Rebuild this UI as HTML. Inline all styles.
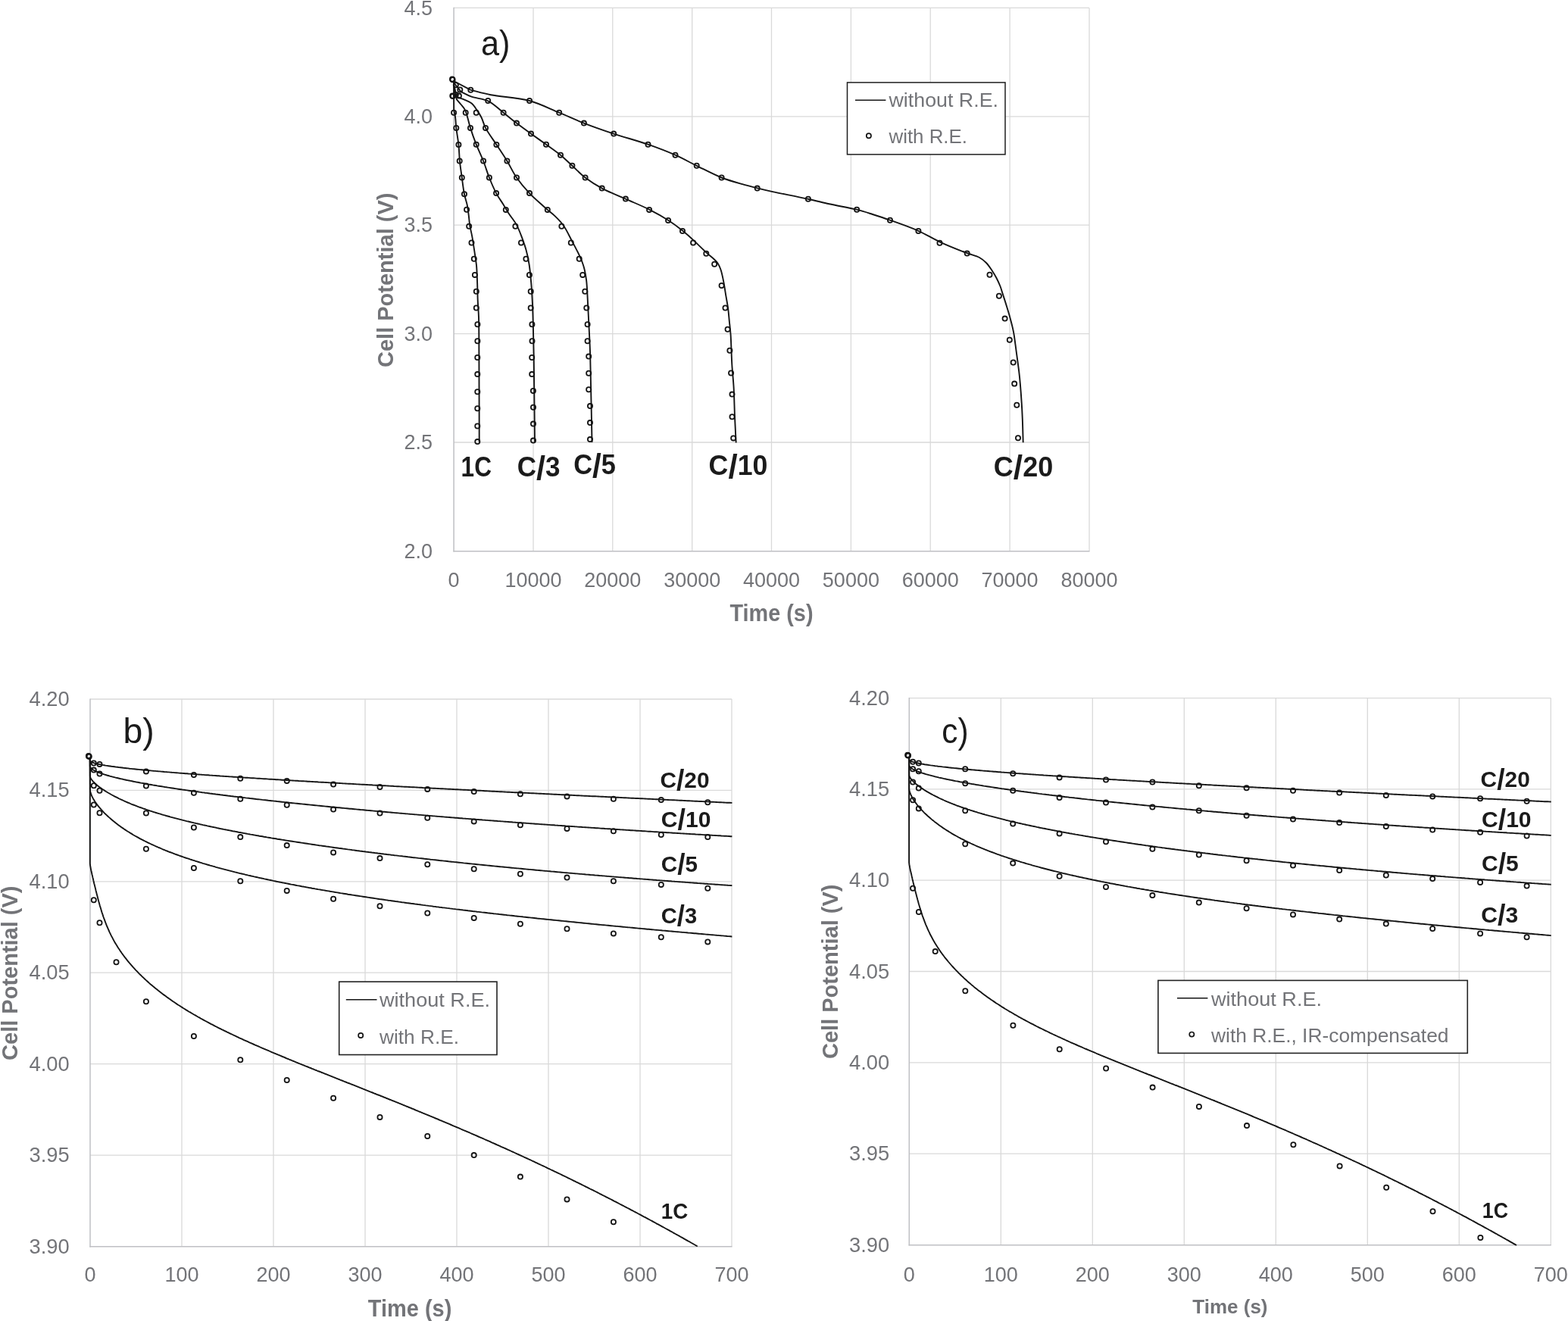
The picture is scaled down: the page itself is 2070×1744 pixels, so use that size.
<!DOCTYPE html>
<html><head><meta charset="utf-8"><title>Cell potential vs time</title>
<style>
html,body{margin:0;padding:0;background:#fff;}
svg{display:block;}
text{font-family:"Liberation Sans",Arial,sans-serif;}
</style></head>
<body>
<svg width="2070" height="1744" viewBox="0 0 2070 1744">
<rect width="2070" height="1744" fill="#fff"/>
<g>
<line x1="704" y1="10.4" x2="704" y2="727.4" stroke="#d9d9d9" stroke-width="1.3"/>
<line x1="808.8" y1="10.4" x2="808.8" y2="727.4" stroke="#d9d9d9" stroke-width="1.3"/>
<line x1="913.7" y1="10.4" x2="913.7" y2="727.4" stroke="#d9d9d9" stroke-width="1.3"/>
<line x1="1018.5" y1="10.4" x2="1018.5" y2="727.4" stroke="#d9d9d9" stroke-width="1.3"/>
<line x1="1123.4" y1="10.4" x2="1123.4" y2="727.4" stroke="#d9d9d9" stroke-width="1.3"/>
<line x1="1228.2" y1="10.4" x2="1228.2" y2="727.4" stroke="#d9d9d9" stroke-width="1.3"/>
<line x1="1333.1" y1="10.4" x2="1333.1" y2="727.4" stroke="#d9d9d9" stroke-width="1.3"/>
<line x1="1438" y1="10.4" x2="1438" y2="727.4" stroke="#d9d9d9" stroke-width="1.3"/>
<line x1="599.1" y1="10.4" x2="1438" y2="10.4" stroke="#d9d9d9" stroke-width="1.3"/>
<line x1="599.1" y1="153.8" x2="1438" y2="153.8" stroke="#d9d9d9" stroke-width="1.3"/>
<line x1="599.1" y1="297.2" x2="1438" y2="297.2" stroke="#d9d9d9" stroke-width="1.3"/>
<line x1="599.1" y1="440.6" x2="1438" y2="440.6" stroke="#d9d9d9" stroke-width="1.3"/>
<line x1="599.1" y1="584" x2="1438" y2="584" stroke="#d9d9d9" stroke-width="1.3"/>
<line x1="599.1" y1="9.8" x2="599.1" y2="728.4" stroke="#bfc0c4" stroke-width="1.5"/>
<line x1="598.4" y1="727.7" x2="1438.5" y2="727.7" stroke="#bfc0c4" stroke-width="1.5"/>
</g>
<text x="571" y="19.6" font-size="27" text-anchor="end" fill="#737478">4.5</text>
<text x="571" y="163" font-size="27" text-anchor="end" fill="#737478">4.0</text>
<text x="571" y="306.4" font-size="27" text-anchor="end" fill="#737478">3.5</text>
<text x="571" y="449.8" font-size="27" text-anchor="end" fill="#737478">3.0</text>
<text x="571" y="593.2" font-size="27" text-anchor="end" fill="#737478">2.5</text>
<text x="571" y="736.6" font-size="27" text-anchor="end" fill="#737478">2.0</text>
<text x="599.1" y="774.9" font-size="27" text-anchor="middle" fill="#737478">0</text>
<text x="704" y="774.9" font-size="27" text-anchor="middle" fill="#737478">10000</text>
<text x="808.8" y="774.9" font-size="27" text-anchor="middle" fill="#737478">20000</text>
<text x="913.7" y="774.9" font-size="27" text-anchor="middle" fill="#737478">30000</text>
<text x="1018.5" y="774.9" font-size="27" text-anchor="middle" fill="#737478">40000</text>
<text x="1123.4" y="774.9" font-size="27" text-anchor="middle" fill="#737478">50000</text>
<text x="1228.2" y="774.9" font-size="27" text-anchor="middle" fill="#737478">60000</text>
<text x="1333.1" y="774.9" font-size="27" text-anchor="middle" fill="#737478">70000</text>
<text x="1438" y="774.9" font-size="27" text-anchor="middle" fill="#737478">80000</text>
<text x="1018.5" y="819.8" font-size="30.5" text-anchor="middle" font-weight="bold" textLength="110" lengthAdjust="spacingAndGlyphs" fill="#737478">Time (s)</text>
<text x="0" y="0" font-size="29" text-anchor="middle" font-weight="bold" fill="#737478" transform="translate(518.6,369.8) rotate(-90)">Cell Potential (V)</text>
<text x="635" y="73.3" font-size="46.5" textLength="38.5" lengthAdjust="spacingAndGlyphs" fill="#1b1b1b">a)</text>
<g id="lines-a">
<path fill="none" stroke="#141414" stroke-width="1.9" stroke-linejoin="round" d="M599,107 L621,118.7 C630,120.9 637.5,123.2 648,125.3 C662.3,128.1 683.3,128.7 699,133 C713.2,136.9 725.8,143.6 738.2,148.7 C749.6,153.4 759.4,158.1 770.9,162.6 C783.3,167.5 796.6,172.1 810.2,176.6 C824.7,181.4 841.3,185.8 855.5,190.7 C868.3,195.2 880.3,199.8 891.5,204.7 C901.6,209.2 909.9,214 919.7,218.8 C930.2,223.9 942,230.3 952.6,234.5 C962,238.2 971.6,240.8 980,243.2 C987.1,245.3 993.3,246.8 999.7,248.4 C1005.8,249.9 1010.3,251 1017.8,252.6 C1030.2,255.3 1052.9,259.6 1066.9,262.7 C1077.5,265 1084.8,267.1 1094.7,269.3 C1106,271.8 1120.7,274.1 1131.1,276.7 C1139.1,278.7 1144.9,280.7 1152,283 C1159.5,285.4 1166.3,287.6 1174.8,290.6 C1185.8,294.5 1200.9,299.7 1212.4,304.8 C1222.6,309.3 1230.4,314.6 1240.5,319.3 C1251.7,324.5 1267,330.5 1276.7,334.2 C1283.2,336.7 1288.5,337.5 1293,340 C1296.6,342 1299.3,344.3 1302,347 C1304.8,349.9 1307.2,353.6 1309.5,357 C1311.7,360.3 1313.8,363.8 1315.6,367.3 C1317.4,370.8 1319.1,374.5 1320.5,378 C1321.8,381.3 1322.4,384 1323.7,387.9 C1325.6,393.7 1328.6,403.1 1330.6,409.7 C1332.3,415.2 1333.6,419.8 1334.9,424.9 C1336.2,429.9 1337.4,434.7 1338.3,439.8 C1339.3,445 1339.8,450.4 1340.6,455.9 C1341.4,461.5 1342.1,467.4 1342.9,473.1 C1343.7,478.8 1344.5,484.6 1345.2,490.3 C1345.9,496 1346.4,501.4 1346.9,507.5 C1347.5,514.6 1348.1,522.8 1348.6,530.4 C1349.1,538 1349.5,545.1 1349.8,553.3 C1350.2,562.9 1350.4,574 1350.7,584.3"/>
<path fill="none" stroke="#141414" stroke-width="1.9" stroke-linejoin="round" d="M599,109 L608.6,121.1 C613.2,123.3 617.2,125.8 622.4,127.7 C628.8,130 637.5,130.1 644.4,133.4 C651.7,136.9 658.1,143.7 664.6,148.7 C670.6,153.4 676,158 682,162.6 C688.1,167.3 694.6,172 701,176.6 C707.6,181.3 714.4,186 721,190.7 C727.4,195.3 734.1,199.9 740,204.7 C745.5,209.2 750.1,214 755.4,218.8 C761,223.9 766.3,229.7 772.6,234.5 C779.3,239.6 786.5,244.2 794.7,248.6 C804,253.6 815.5,257.9 825.9,262.6 C836.3,267.3 847.4,271.7 857.1,276.6 C866,281.1 874.5,285.9 882.1,290.8 C889,295.2 895.1,299.8 901,304.6 C906.7,309.1 911.8,313.8 917,318.6 C922.2,323.4 927.7,329.1 932.4,333.4 C936.2,336.9 940.3,339.8 943,342.5 C944.9,344.3 946.2,345.5 947.5,347.5 C949.1,349.9 950.3,352.6 951.5,356 C953.1,360.7 954.4,367.4 955.5,373.2 C956.6,378.9 957.4,384.7 958.3,390.4 C959.3,396.1 960.4,401.9 961.2,407.6 C962,413.3 962.3,419.1 962.9,424.8 C963.5,430.5 964.1,435.1 964.6,442 C965.3,452.4 965.6,469.1 966.3,481.3 C966.9,491.9 968,500.5 968.6,511.1 C969.3,523.2 969.5,537.5 970,550.1 C970.5,561.9 971.1,573 971.7,584.5"/>
<path fill="none" stroke="#141414" stroke-width="1.9" stroke-linejoin="round" d="M599,111 L602.8,127.7 C605.9,128.8 608.9,129.7 612,131.1 C615.4,132.6 619.5,134 622.4,136.3 C625.2,138.6 627.2,141.8 629.3,144.9 C631.5,148.1 633.6,151.3 635.5,155 C637.6,159.2 638.4,163.9 641,168.9 C644.4,175.6 650.6,183.6 655.4,190.9 C660.1,198.1 665,205.2 669.4,212.5 C673.8,219.7 677.1,227.5 682,234.5 C687,241.7 693.2,249 699,255.1 C704.2,260.7 710.6,266 715,270 C718,272.8 720,274.5 722.7,276.9 C725.7,279.5 729,281.8 732.2,284.9 C736,288.5 740.1,292.5 743.7,297.5 C747.9,303.3 751.5,311.5 755.1,318.2 C758.4,324.5 762.1,331.4 764.5,336.5 C766.2,340.1 767.4,342.8 768.6,346 C769.8,349.2 770.7,352.1 771.6,355.7 C772.6,359.9 773.4,364.4 774.1,369.8 C775,377.2 775.3,386.7 775.8,396.1 C776.4,406.8 777,418.7 777.5,430.6 C778.1,443.3 778.7,453.5 779.2,470 C780.1,498.1 780.7,546 781.5,584"/>
<path fill="none" stroke="#141414" stroke-width="1.9" stroke-linejoin="round" d="M599,112 L602.8,131.1 C604.7,133.4 606.7,135.7 608.6,138 C610.4,140.3 612.4,142.3 613.8,144.9 C615.3,147.8 616.1,151.3 617.2,155 C618.5,159.2 619.4,163.8 621,168.9 C623,175.4 625.9,183.5 628.7,190.7 C631.6,198 635.2,205.2 638.1,212.5 C641,219.8 643,227.3 645.9,234.5 C648.7,241.5 651.8,248.9 655.1,255.1 C658,260.6 661.6,265.3 664.5,270 C667,274.1 668.8,277.5 671.4,281.5 C674.4,286.2 678.8,291.2 681.7,296.4 C684.5,301.5 686.5,306.9 688.6,312.4 C690.7,318 692.8,323.7 694.4,329.6 C696.1,335.6 697.3,341.4 698.4,348 C699.7,355.7 700.4,364.5 701.2,373.2 C702,382.4 702.5,391.5 703,401.9 C703.6,414.1 703.8,429.8 704.1,442 C704.3,452.2 704.5,457.5 704.7,470 C705.1,495.1 705.6,545.7 706,583.5"/>
<path fill="none" stroke="#141414" stroke-width="1.9" stroke-linejoin="round" d="M599,106 L599.2,144.9 C599.8,148.3 600.6,151.4 601.1,155 C601.7,159.3 601.7,163.7 602.3,168.9 C603,175.4 604.6,183.6 605.4,190.9 C606.2,198.1 606.2,205.3 606.9,212.5 C607.6,219.8 608.8,227.2 609.8,234.5 C610.8,241.8 611.7,249.9 613,256.3 C614,261.4 615.6,265.4 616.6,270 C617.5,274.6 618.1,279.2 618.7,283.8 C619.3,288.4 619.5,292.9 620.2,297.5 C621,302.4 622.3,306.9 623.3,312.4 C624.5,319 625.7,327.5 626.7,334.2 C627.6,340 628.4,344.4 629,350.3 C629.7,357.2 629.8,365.6 630.1,373.2 C630.4,380.8 630.4,388.5 630.7,396.1 C631,403.8 631.7,409.9 632,419.1 C632.4,432.7 632.3,449.7 632.4,470 C632.6,500.3 632.6,545.7 632.7,583.5"/>
</g>
<g fill="none" stroke="#141414" stroke-width="1.8">
<circle cx="597" cy="104.6" r="3.1"/>
<circle cx="597.6" cy="105.3" r="3.1"/>
<circle cx="597.3" cy="126.6" r="3.1"/>
<circle cx="597.8" cy="127.1" r="3.1"/>
<circle cx="601.8" cy="112.2" r="3.1"/>
<circle cx="607.3" cy="118.4" r="3.1"/>
<circle cx="601.8" cy="124.9" r="3.1"/>
<circle cx="605.9" cy="126.6" r="3.1"/>
<circle cx="621.3" cy="118.7" r="3.1"/>
<circle cx="699" cy="133" r="3.1"/>
<circle cx="738.2" cy="148.7" r="3.1"/>
<circle cx="770.9" cy="162.6" r="3.1"/>
<circle cx="810.2" cy="176.6" r="3.1"/>
<circle cx="855.5" cy="190.7" r="3.1"/>
<circle cx="891.5" cy="204.7" r="3.1"/>
<circle cx="919.7" cy="218.8" r="3.1"/>
<circle cx="952.6" cy="234.5" r="3.1"/>
<circle cx="999.7" cy="248.6" r="3.1"/>
<circle cx="1066.9" cy="262.7" r="3.1"/>
<circle cx="1131.1" cy="276.7" r="3.1"/>
<circle cx="1175" cy="290.8" r="3.1"/>
<circle cx="1212.4" cy="305" r="3.1"/>
<circle cx="1240.5" cy="320.8" r="3.1"/>
<circle cx="1276.7" cy="334.6" r="3.1"/>
<circle cx="1306.5" cy="362.7" r="3.1"/>
<circle cx="1318.9" cy="390.8" r="3.1"/>
<circle cx="1326.6" cy="420.6" r="3.1"/>
<circle cx="1332.8" cy="448.8" r="3.1"/>
<circle cx="1337.7" cy="478.5" r="3.1"/>
<circle cx="1339.2" cy="506.6" r="3.1"/>
<circle cx="1342.3" cy="534.7" r="3.1"/>
<circle cx="1344" cy="578.3" r="3.1"/>
<circle cx="644.2" cy="133" r="3.1"/>
<circle cx="664.6" cy="148.7" r="3.1"/>
<circle cx="682" cy="162.6" r="3.1"/>
<circle cx="701" cy="176.6" r="3.1"/>
<circle cx="721" cy="190.7" r="3.1"/>
<circle cx="740" cy="204.7" r="3.1"/>
<circle cx="755.4" cy="218.8" r="3.1"/>
<circle cx="772.6" cy="234.5" r="3.1"/>
<circle cx="794.7" cy="248.6" r="3.1"/>
<circle cx="825.9" cy="262.6" r="3.1"/>
<circle cx="857.1" cy="276.9" r="3.1"/>
<circle cx="882.1" cy="291" r="3.1"/>
<circle cx="901" cy="305" r="3.1"/>
<circle cx="915.1" cy="320.5" r="3.1"/>
<circle cx="932.3" cy="334.8" r="3.1"/>
<circle cx="943.2" cy="348.8" r="3.1"/>
<circle cx="952.6" cy="377" r="3.1"/>
<circle cx="957.5" cy="406.5" r="3.1"/>
<circle cx="960.6" cy="434.8" r="3.1"/>
<circle cx="963.4" cy="462.8" r="3.1"/>
<circle cx="965.1" cy="492.5" r="3.1"/>
<circle cx="966.5" cy="520.6" r="3.1"/>
<circle cx="966.5" cy="550.3" r="3.1"/>
<circle cx="968.2" cy="578.4" r="3.1"/>
<circle cx="628.7" cy="148.7" r="3.1"/>
<circle cx="641" cy="168.9" r="3.1"/>
<circle cx="655.4" cy="190.9" r="3.1"/>
<circle cx="669.4" cy="212.5" r="3.1"/>
<circle cx="682" cy="234.5" r="3.1"/>
<circle cx="699" cy="255.1" r="3.1"/>
<circle cx="722.8" cy="276.9" r="3.1"/>
<circle cx="741.4" cy="298.7" r="3.1"/>
<circle cx="753.8" cy="320.5" r="3.1"/>
<circle cx="764.7" cy="341.7" r="3.1"/>
<circle cx="769.2" cy="362.9" r="3.1"/>
<circle cx="772.3" cy="384.7" r="3.1"/>
<circle cx="774.3" cy="406.5" r="3.1"/>
<circle cx="775.6" cy="428.3" r="3.1"/>
<circle cx="775.6" cy="450.3" r="3.1"/>
<circle cx="777.2" cy="470.6" r="3.1"/>
<circle cx="777.2" cy="492.7" r="3.1"/>
<circle cx="777.2" cy="514.3" r="3.1"/>
<circle cx="779" cy="536.1" r="3.1"/>
<circle cx="779" cy="558.1" r="3.1"/>
<circle cx="779" cy="580.1" r="3.1"/>
<circle cx="614.7" cy="148.7" r="3.1"/>
<circle cx="621" cy="168.9" r="3.1"/>
<circle cx="628.7" cy="190.7" r="3.1"/>
<circle cx="638.1" cy="212.5" r="3.1"/>
<circle cx="645.9" cy="234.5" r="3.1"/>
<circle cx="655.1" cy="255.1" r="3.1"/>
<circle cx="667.8" cy="276.9" r="3.1"/>
<circle cx="680.4" cy="298.7" r="3.1"/>
<circle cx="688" cy="320.5" r="3.1"/>
<circle cx="694.4" cy="341.7" r="3.1"/>
<circle cx="698.9" cy="362.9" r="3.1"/>
<circle cx="700.7" cy="384.7" r="3.1"/>
<circle cx="700.7" cy="406.5" r="3.1"/>
<circle cx="702.4" cy="428.3" r="3.1"/>
<circle cx="702.5" cy="450.3" r="3.1"/>
<circle cx="702.2" cy="472" r="3.1"/>
<circle cx="702.2" cy="494.1" r="3.1"/>
<circle cx="703.9" cy="515.9" r="3.1"/>
<circle cx="704" cy="537.8" r="3.1"/>
<circle cx="704" cy="559.6" r="3.1"/>
<circle cx="704" cy="581.6" r="3.1"/>
<circle cx="599.1" cy="148.7" r="3.1"/>
<circle cx="602.3" cy="168.9" r="3.1"/>
<circle cx="605.4" cy="190.9" r="3.1"/>
<circle cx="606.7" cy="212.5" r="3.1"/>
<circle cx="609.8" cy="234.5" r="3.1"/>
<circle cx="613" cy="256.3" r="3.1"/>
<circle cx="616.1" cy="276.7" r="3.1"/>
<circle cx="619.2" cy="298.7" r="3.1"/>
<circle cx="622.5" cy="320.5" r="3.1"/>
<circle cx="625.8" cy="341.7" r="3.1"/>
<circle cx="626.9" cy="362.9" r="3.1"/>
<circle cx="628.8" cy="384.7" r="3.1"/>
<circle cx="628.8" cy="406.5" r="3.1"/>
<circle cx="630.4" cy="428.3" r="3.1"/>
<circle cx="630.4" cy="450.3" r="3.1"/>
<circle cx="630.3" cy="472" r="3.1"/>
<circle cx="630.3" cy="494.1" r="3.1"/>
<circle cx="630.3" cy="517.2" r="3.1"/>
<circle cx="630.3" cy="539.3" r="3.1"/>
<circle cx="630.3" cy="562.5" r="3.1"/>
<circle cx="630.3" cy="583.1" r="3.1"/>
</g>
<text x="608.6" y="628.6" font-size="36.5" font-weight="bold" fill="#1b1b1b" textLength="40.4" lengthAdjust="spacingAndGlyphs">1C</text>
<text x="682.8" y="629.1" font-size="36.5" font-weight="bold" fill="#1b1b1b" textLength="56.8" lengthAdjust="spacingAndGlyphs">C<tspan font-size="45" dy="3.8">/</tspan><tspan dy="-3.8">3</tspan></text>
<text x="757.2" y="625.7" font-size="36.5" font-weight="bold" fill="#1b1b1b" textLength="55.8" lengthAdjust="spacingAndGlyphs">C<tspan font-size="45" dy="3.8">/</tspan><tspan dy="-3.8">5</tspan></text>
<text x="935.6" y="626.9" font-size="36.5" font-weight="bold" fill="#1b1b1b" textLength="77.8" lengthAdjust="spacingAndGlyphs">C<tspan font-size="45" dy="3.8">/</tspan><tspan dy="-3.8">10</tspan></text>
<text x="1311.8" y="628.6" font-size="36.5" font-weight="bold" fill="#1b1b1b" textLength="78.4" lengthAdjust="spacingAndGlyphs">C<tspan font-size="45" dy="3.8">/</tspan><tspan dy="-3.8">20</tspan></text>
<rect x="1118.5" y="108.9" width="208.5" height="95" fill="#fff" stroke="#1e1e1e" stroke-width="1.5"/>
<line x1="1129" y1="132.2" x2="1169.4" y2="132.2" stroke="#141414" stroke-width="1.5"/>
<text x="1173.5" y="140.9" font-size="26" textLength="144.5" lengthAdjust="spacingAndGlyphs" fill="#737478">without R.E.</text>
<circle cx="1146.9" cy="179.2" r="3.1" fill="none" stroke="#141414" stroke-width="1.7"/>
<text x="1173.5" y="188.6" font-size="26" textLength="103.5" lengthAdjust="spacingAndGlyphs" fill="#737478">with R.E.</text>
<g>
<line x1="240" y1="923" x2="240" y2="1645.5" stroke="#d9d9d9" stroke-width="1.3"/>
<line x1="361" y1="923" x2="361" y2="1645.5" stroke="#d9d9d9" stroke-width="1.3"/>
<line x1="482" y1="923" x2="482" y2="1645.5" stroke="#d9d9d9" stroke-width="1.3"/>
<line x1="603" y1="923" x2="603" y2="1645.5" stroke="#d9d9d9" stroke-width="1.3"/>
<line x1="724" y1="923" x2="724" y2="1645.5" stroke="#d9d9d9" stroke-width="1.3"/>
<line x1="845" y1="923" x2="845" y2="1645.5" stroke="#d9d9d9" stroke-width="1.3"/>
<line x1="966" y1="923" x2="966" y2="1645.5" stroke="#d9d9d9" stroke-width="1.3"/>
<line x1="119" y1="923" x2="966" y2="923" stroke="#d9d9d9" stroke-width="1.3"/>
<line x1="119" y1="1043.4" x2="966" y2="1043.4" stroke="#d9d9d9" stroke-width="1.3"/>
<line x1="119" y1="1163.8" x2="966" y2="1163.8" stroke="#d9d9d9" stroke-width="1.3"/>
<line x1="119" y1="1284.2" x2="966" y2="1284.2" stroke="#d9d9d9" stroke-width="1.3"/>
<line x1="119" y1="1404.7" x2="966" y2="1404.7" stroke="#d9d9d9" stroke-width="1.3"/>
<line x1="119" y1="1525.1" x2="966" y2="1525.1" stroke="#d9d9d9" stroke-width="1.3"/>
<line x1="119" y1="922.4" x2="119" y2="1646.5" stroke="#bfc0c4" stroke-width="1.5"/>
<line x1="118.3" y1="1645.8" x2="966.6" y2="1645.8" stroke="#bfc0c4" stroke-width="1.5"/>
</g>
<text x="91.6" y="932" font-size="27.3" text-anchor="end" fill="#737478">4.20</text>
<text x="91.6" y="1052.4" font-size="27.3" text-anchor="end" fill="#737478">4.15</text>
<text x="91.6" y="1172.8" font-size="27.3" text-anchor="end" fill="#737478">4.10</text>
<text x="91.6" y="1293.2" font-size="27.3" text-anchor="end" fill="#737478">4.05</text>
<text x="91.6" y="1413.7" font-size="27.3" text-anchor="end" fill="#737478">4.00</text>
<text x="91.6" y="1534.1" font-size="27.3" text-anchor="end" fill="#737478">3.95</text>
<text x="91.6" y="1654.5" font-size="27.3" text-anchor="end" fill="#737478">3.90</text>
<text x="119" y="1692.4" font-size="27" text-anchor="middle" fill="#737478">0</text>
<text x="240" y="1692.4" font-size="27" text-anchor="middle" fill="#737478">100</text>
<text x="361" y="1692.4" font-size="27" text-anchor="middle" fill="#737478">200</text>
<text x="482" y="1692.4" font-size="27" text-anchor="middle" fill="#737478">300</text>
<text x="603" y="1692.4" font-size="27" text-anchor="middle" fill="#737478">400</text>
<text x="724" y="1692.4" font-size="27" text-anchor="middle" fill="#737478">500</text>
<text x="845" y="1692.4" font-size="27" text-anchor="middle" fill="#737478">600</text>
<text x="966" y="1692.4" font-size="27" text-anchor="middle" fill="#737478">700</text>
<g>
<line x1="1321.3" y1="921.6" x2="1321.3" y2="1643.5" stroke="#d9d9d9" stroke-width="1.3"/>
<line x1="1442.3" y1="921.6" x2="1442.3" y2="1643.5" stroke="#d9d9d9" stroke-width="1.3"/>
<line x1="1563.3" y1="921.6" x2="1563.3" y2="1643.5" stroke="#d9d9d9" stroke-width="1.3"/>
<line x1="1684.3" y1="921.6" x2="1684.3" y2="1643.5" stroke="#d9d9d9" stroke-width="1.3"/>
<line x1="1805.3" y1="921.6" x2="1805.3" y2="1643.5" stroke="#d9d9d9" stroke-width="1.3"/>
<line x1="1926.3" y1="921.6" x2="1926.3" y2="1643.5" stroke="#d9d9d9" stroke-width="1.3"/>
<line x1="2047.3" y1="921.6" x2="2047.3" y2="1643.5" stroke="#d9d9d9" stroke-width="1.3"/>
<line x1="1200.3" y1="921.6" x2="2047.3" y2="921.6" stroke="#d9d9d9" stroke-width="1.3"/>
<line x1="1200.3" y1="1041.9" x2="2047.3" y2="1041.9" stroke="#d9d9d9" stroke-width="1.3"/>
<line x1="1200.3" y1="1162.2" x2="2047.3" y2="1162.2" stroke="#d9d9d9" stroke-width="1.3"/>
<line x1="1200.3" y1="1282.5" x2="2047.3" y2="1282.5" stroke="#d9d9d9" stroke-width="1.3"/>
<line x1="1200.3" y1="1402.9" x2="2047.3" y2="1402.9" stroke="#d9d9d9" stroke-width="1.3"/>
<line x1="1200.3" y1="1523.2" x2="2047.3" y2="1523.2" stroke="#d9d9d9" stroke-width="1.3"/>
<line x1="1200.3" y1="921" x2="1200.3" y2="1644.5" stroke="#bfc0c4" stroke-width="1.5"/>
<line x1="1199.6" y1="1643.8" x2="2047.9" y2="1643.8" stroke="#bfc0c4" stroke-width="1.5"/>
</g>
<text x="1174.2" y="930.6" font-size="27.3" text-anchor="end" fill="#737478">4.20</text>
<text x="1174.2" y="1050.9" font-size="27.3" text-anchor="end" fill="#737478">4.15</text>
<text x="1174.2" y="1171.2" font-size="27.3" text-anchor="end" fill="#737478">4.10</text>
<text x="1174.2" y="1291.5" font-size="27.3" text-anchor="end" fill="#737478">4.05</text>
<text x="1174.2" y="1411.9" font-size="27.3" text-anchor="end" fill="#737478">4.00</text>
<text x="1174.2" y="1532.2" font-size="27.3" text-anchor="end" fill="#737478">3.95</text>
<text x="1174.2" y="1652.5" font-size="27.3" text-anchor="end" fill="#737478">3.90</text>
<text x="1200.3" y="1691.5" font-size="27" text-anchor="middle" fill="#737478">0</text>
<text x="1321.3" y="1691.5" font-size="27" text-anchor="middle" fill="#737478">100</text>
<text x="1442.3" y="1691.5" font-size="27" text-anchor="middle" fill="#737478">200</text>
<text x="1563.3" y="1691.5" font-size="27" text-anchor="middle" fill="#737478">300</text>
<text x="1684.3" y="1691.5" font-size="27" text-anchor="middle" fill="#737478">400</text>
<text x="1805.3" y="1691.5" font-size="27" text-anchor="middle" fill="#737478">500</text>
<text x="1926.3" y="1691.5" font-size="27" text-anchor="middle" fill="#737478">600</text>
<text x="2047.3" y="1691.5" font-size="27" text-anchor="middle" fill="#737478">700</text>
<text x="541.1" y="1738.3" font-size="30.5" text-anchor="middle" font-weight="bold" textLength="110.5" lengthAdjust="spacingAndGlyphs" fill="#737478">Time (s)</text>
<text x="1623.9" y="1733.5" font-size="26" text-anchor="middle" font-weight="bold" fill="#737478">Time (s)</text>
<text x="0" y="0" font-size="29" text-anchor="middle" font-weight="bold" fill="#737478" transform="translate(23.4,1284.7) rotate(-90)">Cell Potential (V)</text>
<text x="0" y="0" font-size="29" text-anchor="middle" font-weight="bold" fill="#737478" transform="translate(1105.9,1282.8) rotate(-90)">Cell Potential (V)</text>
<text x="162.5" y="981" font-size="47" textLength="41.2" lengthAdjust="spacingAndGlyphs" fill="#1b1b1b">b)</text>
<text x="1243.3" y="981" font-size="47" textLength="35.3" lengthAdjust="spacingAndGlyphs" fill="#1b1b1b">c)</text>
<clipPath id="cb"><rect x="116" y="913" width="853" height="733.1"/></clipPath>
<g id="lines-b" clip-path="url(#cb)">
<polyline fill="none" stroke="#141414" stroke-width="1.9" stroke-linejoin="round" points="118.8,1001.5 118.9,1004.5 120.1,1005.7 121.9,1006.5 123.7,1007.2 125.6,1007.8 127.6,1008.3 129.5,1008.7 131.5,1009.1 133.4,1009.5 135.4,1009.9 137.4,1010.2 139.3,1010.6 141.3,1010.9 143.3,1011.2 145.3,1011.5 147.2,1011.8 149.2,1012 151.2,1012.3 153.2,1012.6 155.2,1012.8 157.2,1013.1 159.1,1013.3 161.1,1013.5 163.1,1013.8 165.1,1014 167.1,1014.2 169.1,1014.4 171.1,1014.7 173.1,1014.9 175,1015.1 177,1015.3 179,1015.5 181,1015.7 183,1015.9 185,1016.1 187,1016.3 189,1016.5 191,1016.7 193,1016.8 194.9,1017 196.9,1017.2 198.9,1017.4 200.9,1017.6 202.9,1017.8 204.9,1017.9 206.9,1018.1 208.9,1018.3 210.9,1018.4 212.9,1018.6 214.9,1018.8 216.9,1019 218.9,1019.1 220.8,1019.3 222.8,1019.4 224.8,1019.6 226.8,1019.8 228.8,1019.9 230.8,1020.1 232.8,1020.2 234.8,1020.4 236.8,1020.6 238.8,1020.7 240.8,1020.9 242.8,1021 244.8,1021.2 246.8,1021.3 248.8,1021.5 250.8,1021.6 252.8,1021.8 254.7,1021.9 256.7,1022.1 258.7,1022.2 260.7,1022.4 262.7,1022.5 264.7,1022.6 266.7,1022.8 268.7,1022.9 270.7,1023.1 272.7,1023.2 274.7,1023.3 276.7,1023.5 278.7,1023.6 280.7,1023.8 282.7,1023.9 284.7,1024 286.7,1024.2 288.7,1024.3 290.7,1024.5 292.7,1024.6 294.6,1024.7 296.6,1024.9 298.6,1025 300.6,1025.1 302.6,1025.3 304.6,1025.4 306.6,1025.5 308.6,1025.7 310.6,1025.8 312.6,1025.9 314.6,1026 316.6,1026.2 318.6,1026.3 320.6,1026.4 322.6,1026.6 324.6,1026.7 326.6,1026.8 328.6,1026.9 330.6,1027.1 332.6,1027.2 334.6,1027.3 336.6,1027.4 338.6,1027.6 340.5,1027.7 342.5,1027.8 344.5,1027.9 346.5,1028.1 348.5,1028.2 350.5,1028.3 352.5,1028.4 354.5,1028.6 356.5,1028.7 358.5,1028.8 360.5,1028.9 362.5,1029 364.5,1029.2 366.5,1029.3 368.5,1029.4 370.5,1029.5 372.5,1029.7 374.5,1029.8 376.5,1029.9 378.5,1030 380.5,1030.1 382.5,1030.2 384.5,1030.4 386.5,1030.5 388.5,1030.6 390.5,1030.7 392.5,1030.8 394.5,1031 396.4,1031.1 398.4,1031.2 400.4,1031.3 402.4,1031.4 404.4,1031.5 406.4,1031.7 408.4,1031.8 410.4,1031.9 412.4,1032 414.4,1032.1 416.4,1032.2 418.4,1032.3 420.4,1032.5 422.4,1032.6 424.4,1032.7 426.4,1032.8 428.4,1032.9 430.4,1033 432.4,1033.1 434.4,1033.3 436.4,1033.4 438.4,1033.5 440.4,1033.6 442.4,1033.7 444.4,1033.8 446.4,1033.9 448.4,1034 450.4,1034.1 452.4,1034.3 454.4,1034.4 456.3,1034.5 458.3,1034.6 460.3,1034.7 462.3,1034.8 464.3,1034.9 466.3,1035 468.3,1035.1 470.3,1035.3 472.3,1035.4 474.3,1035.5 476.3,1035.6 478.3,1035.7 480.3,1035.8 482.3,1035.9 484.3,1036 486.3,1036.1 488.3,1036.2 490.3,1036.3 492.3,1036.5 494.3,1036.6 496.3,1036.7 498.3,1036.8 500.3,1036.9 502.3,1037 504.3,1037.1 506.3,1037.2 508.3,1037.3 510.3,1037.4 512.3,1037.5 514.3,1037.6 516.3,1037.7 518.3,1037.8 520.3,1038 522.3,1038.1 524.2,1038.2 526.2,1038.3 528.2,1038.4 530.2,1038.5 532.2,1038.6 534.2,1038.7 536.2,1038.8 538.2,1038.9 540.2,1039 542.2,1039.1 544.2,1039.2 546.2,1039.3 548.2,1039.4 550.2,1039.5 552.2,1039.6 554.2,1039.7 556.2,1039.8 558.2,1040 560.2,1040.1 562.2,1040.2 564.2,1040.3 566.2,1040.4 568.2,1040.5 570.2,1040.6 572.2,1040.7 574.2,1040.8 576.2,1040.9 578.2,1041 580.2,1041.1 582.2,1041.2 584.2,1041.3 586.2,1041.4 588.2,1041.5 590.2,1041.6 592.2,1041.7 594.2,1041.8 596.2,1041.9 598.1,1042 600.1,1042.1 602.1,1042.2 604.1,1042.3 606.1,1042.4 608.1,1042.5 610.1,1042.6 612.1,1042.7 614.1,1042.8 616.1,1042.9 618.1,1043 620.1,1043.1 622.1,1043.2 624.1,1043.3 626.1,1043.4 628.1,1043.5 630.1,1043.6 632.1,1043.7 634.1,1043.8 636.1,1043.9 638.1,1044 640.1,1044.2 642.1,1044.3 644.1,1044.4 646.1,1044.5 648.1,1044.6 650.1,1044.7 652.1,1044.8 654.1,1044.9 656.1,1045 658.1,1045.1 660.1,1045.2 662.1,1045.3 664.1,1045.4 666.1,1045.5 668.1,1045.6 670.1,1045.7 672.1,1045.8 674.1,1045.9 676,1046 678,1046.1 680,1046.2 682,1046.3 684,1046.4 686,1046.5 688,1046.5 690,1046.6 692,1046.7 694,1046.8 696,1046.9 698,1047 700,1047.1 702,1047.2 704,1047.3 706,1047.4 708,1047.5 710,1047.6 712,1047.7 714,1047.8 716,1047.9 718,1048 720,1048.1 722,1048.2 724,1048.3 726,1048.4 728,1048.5 730,1048.6 732,1048.7 734,1048.8 736,1048.9 738,1049 740,1049.1 742,1049.2 744,1049.3 746,1049.4 748,1049.5 750,1049.6 752,1049.7 754,1049.8 756,1049.9 758,1050 759.9,1050.1 761.9,1050.2 763.9,1050.3 765.9,1050.4 767.9,1050.5 769.9,1050.6 771.9,1050.7 773.9,1050.8 775.9,1050.9 777.9,1051 779.9,1051.1 781.9,1051.2 783.9,1051.3 785.9,1051.3 787.9,1051.4 789.9,1051.5 791.9,1051.6 793.9,1051.7 795.9,1051.8 797.9,1051.9 799.9,1052 801.9,1052.1 803.9,1052.2 805.9,1052.3 807.9,1052.4 809.9,1052.5 811.9,1052.6 813.9,1052.7 815.9,1052.8 817.9,1052.9 819.9,1053 821.9,1053.1 823.9,1053.2 825.9,1053.3 827.9,1053.4 829.9,1053.5 831.9,1053.6 833.9,1053.7 835.9,1053.8 837.9,1053.9 839.9,1054 841.9,1054 843.9,1054.1 845.8,1054.2 847.8,1054.3 849.8,1054.4 851.8,1054.5 853.8,1054.6 855.8,1054.7 857.8,1054.8 859.8,1054.9 861.8,1055 863.8,1055.1 865.8,1055.2 867.8,1055.3 869.8,1055.4 871.8,1055.5 873.8,1055.6 875.8,1055.7 877.8,1055.8 879.8,1055.9 881.8,1056 883.8,1056.1 885.8,1056.1 887.8,1056.2 889.8,1056.3 891.8,1056.4 893.8,1056.5 895.8,1056.6 897.8,1056.7 899.8,1056.8 901.8,1056.9 903.8,1057 905.8,1057.1 907.8,1057.2 909.8,1057.3 911.8,1057.4 913.8,1057.5 915.8,1057.6 917.8,1057.7 919.8,1057.8 921.8,1057.9 923.8,1058 925.8,1058 927.8,1058.1 929.8,1058.2 931.8,1058.3 933.7,1058.4 935.7,1058.5 937.7,1058.6 939.7,1058.7 941.7,1058.8 943.7,1058.9 945.7,1059 947.7,1059.1 949.7,1059.2 951.7,1059.3 953.7,1059.4 955.7,1059.5 957.7,1059.6 959.7,1059.7 961.7,1059.7 963.7,1059.8 965.7,1059.9 966.4,1060"/>
<polyline fill="none" stroke="#141414" stroke-width="1.9" stroke-linejoin="round" points="118.8,1001.5 118.9,1012.2 119.7,1013.7 121.1,1015.1 122.7,1016.2 124.4,1017.2 126.1,1018.1 127.9,1018.9 129.8,1019.7 131.6,1020.4 133.5,1021.1 135.4,1021.7 137.3,1022.3 139.2,1022.9 141.1,1023.5 143,1024 145,1024.6 146.9,1025.1 148.8,1025.6 150.8,1026.1 152.7,1026.6 154.6,1027 156.6,1027.5 158.5,1028 160.5,1028.4 162.4,1028.8 164.4,1029.3 166.3,1029.7 168.3,1030.1 170.3,1030.5 172.2,1030.9 174.2,1031.3 176.1,1031.7 178.1,1032.1 180.1,1032.5 182,1032.8 184,1033.2 186,1033.6 187.9,1033.9 189.9,1034.3 191.9,1034.7 193.8,1035 195.8,1035.4 197.8,1035.7 199.7,1036 201.7,1036.4 203.7,1036.7 205.7,1037 207.6,1037.4 209.6,1037.7 211.6,1038 213.5,1038.3 215.5,1038.6 217.5,1039 219.5,1039.3 221.4,1039.6 223.4,1039.9 225.4,1040.2 227.4,1040.5 229.4,1040.8 231.3,1041.1 233.3,1041.4 235.3,1041.7 237.3,1042 239.2,1042.3 241.2,1042.6 243.2,1042.8 245.2,1043.1 247.2,1043.4 249.1,1043.7 251.1,1044 253.1,1044.3 255.1,1044.5 257.1,1044.8 259,1045.1 261,1045.3 263,1045.6 265,1045.9 267,1046.2 269,1046.4 270.9,1046.7 272.9,1046.9 274.9,1047.2 276.9,1047.5 278.9,1047.7 280.8,1048 282.8,1048.2 284.8,1048.5 286.8,1048.7 288.8,1049 290.8,1049.3 292.8,1049.5 294.7,1049.8 296.7,1050 298.7,1050.2 300.7,1050.5 302.7,1050.7 304.7,1051 306.6,1051.2 308.6,1051.5 310.6,1051.7 312.6,1051.9 314.6,1052.2 316.6,1052.4 318.6,1052.7 320.5,1052.9 322.5,1053.1 324.5,1053.4 326.5,1053.6 328.5,1053.8 330.5,1054.1 332.5,1054.3 334.5,1054.5 336.4,1054.7 338.4,1055 340.4,1055.2 342.4,1055.4 344.4,1055.6 346.4,1055.9 348.4,1056.1 350.3,1056.3 352.3,1056.5 354.3,1056.8 356.3,1057 358.3,1057.2 360.3,1057.4 362.3,1057.6 364.3,1057.8 366.3,1058.1 368.2,1058.3 370.2,1058.5 372.2,1058.7 374.2,1058.9 376.2,1059.1 378.2,1059.3 380.2,1059.5 382.2,1059.8 384.2,1060 386.1,1060.2 388.1,1060.4 390.1,1060.6 392.1,1060.8 394.1,1061 396.1,1061.2 398.1,1061.4 400.1,1061.6 402.1,1061.8 404,1062 406,1062.2 408,1062.4 410,1062.6 412,1062.8 414,1063 416,1063.2 418,1063.4 420,1063.6 422,1063.8 423.9,1064 425.9,1064.2 427.9,1064.4 429.9,1064.6 431.9,1064.8 433.9,1065 435.9,1065.2 437.9,1065.4 439.9,1065.6 441.9,1065.8 443.9,1066 445.8,1066.2 447.8,1066.3 449.8,1066.5 451.8,1066.7 453.8,1066.9 455.8,1067.1 457.8,1067.3 459.8,1067.5 461.8,1067.7 463.8,1067.8 465.8,1068 467.7,1068.2 469.7,1068.4 471.7,1068.6 473.7,1068.8 475.7,1069 477.7,1069.1 479.7,1069.3 481.7,1069.5 483.7,1069.7 485.7,1069.9 487.7,1070 489.7,1070.2 491.6,1070.4 493.6,1070.6 495.6,1070.8 497.6,1070.9 499.6,1071.1 501.6,1071.3 503.6,1071.5 505.6,1071.7 507.6,1071.8 509.6,1072 511.6,1072.2 513.6,1072.4 515.5,1072.5 517.5,1072.7 519.5,1072.9 521.5,1073.1 523.5,1073.2 525.5,1073.4 527.5,1073.6 529.5,1073.7 531.5,1073.9 533.5,1074.1 535.5,1074.3 537.5,1074.4 539.5,1074.6 541.5,1074.8 543.4,1074.9 545.4,1075.1 547.4,1075.3 549.4,1075.4 551.4,1075.6 553.4,1075.8 555.4,1075.9 557.4,1076.1 559.4,1076.3 561.4,1076.4 563.4,1076.6 565.4,1076.8 567.4,1076.9 569.4,1077.1 571.3,1077.3 573.3,1077.4 575.3,1077.6 577.3,1077.8 579.3,1077.9 581.3,1078.1 583.3,1078.2 585.3,1078.4 587.3,1078.6 589.3,1078.7 591.3,1078.9 593.3,1079 595.3,1079.2 597.3,1079.4 599.3,1079.5 601.3,1079.7 603.2,1079.8 605.2,1080 607.2,1080.2 609.2,1080.3 611.2,1080.5 613.2,1080.6 615.2,1080.8 617.2,1080.9 619.2,1081.1 621.2,1081.2 623.2,1081.4 625.2,1081.6 627.2,1081.7 629.2,1081.9 631.2,1082 633.2,1082.2 635.1,1082.3 637.1,1082.5 639.1,1082.6 641.1,1082.8 643.1,1082.9 645.1,1083.1 647.1,1083.2 649.1,1083.4 651.1,1083.5 653.1,1083.7 655.1,1083.8 657.1,1084 659.1,1084.1 661.1,1084.3 663.1,1084.4 665.1,1084.6 667.1,1084.7 669.1,1084.9 671,1085 673,1085.2 675,1085.3 677,1085.5 679,1085.6 681,1085.8 683,1085.9 685,1086.1 687,1086.2 689,1086.4 691,1086.5 693,1086.6 695,1086.8 697,1086.9 699,1087.1 701,1087.2 703,1087.4 705,1087.5 707,1087.7 708.9,1087.8 710.9,1087.9 712.9,1088.1 714.9,1088.2 716.9,1088.4 718.9,1088.5 720.9,1088.6 722.9,1088.8 724.9,1088.9 726.9,1089.1 728.9,1089.2 730.9,1089.3 732.9,1089.5 734.9,1089.6 736.9,1089.8 738.9,1089.9 740.9,1090 742.9,1090.2 744.9,1090.3 746.9,1090.5 748.8,1090.6 750.8,1090.7 752.8,1090.9 754.8,1091 756.8,1091.1 758.8,1091.3 760.8,1091.4 762.8,1091.6 764.8,1091.7 766.8,1091.8 768.8,1092 770.8,1092.1 772.8,1092.2 774.8,1092.4 776.8,1092.5 778.8,1092.6 780.8,1092.8 782.8,1092.9 784.8,1093 786.8,1093.2 788.8,1093.3 790.8,1093.4 792.7,1093.6 794.7,1093.7 796.7,1093.8 798.7,1094 800.7,1094.1 802.7,1094.2 804.7,1094.3 806.7,1094.5 808.7,1094.6 810.7,1094.7 812.7,1094.9 814.7,1095 816.7,1095.1 818.7,1095.3 820.7,1095.4 822.7,1095.5 824.7,1095.6 826.7,1095.8 828.7,1095.9 830.7,1096 832.7,1096.2 834.7,1096.3 836.7,1096.4 838.7,1096.5 840.6,1096.7 842.6,1096.8 844.6,1096.9 846.6,1097 848.6,1097.2 850.6,1097.3 852.6,1097.4 854.6,1097.6 856.6,1097.7 858.6,1097.8 860.6,1097.9 862.6,1098.1 864.6,1098.2 866.6,1098.3 868.6,1098.4 870.6,1098.6 872.6,1098.7 874.6,1098.8 876.6,1098.9 878.6,1099 880.6,1099.2 882.6,1099.3 884.6,1099.4 886.6,1099.5 888.6,1099.7 890.5,1099.8 892.5,1099.9 894.5,1100 896.5,1100.1 898.5,1100.3 900.5,1100.4 902.5,1100.5 904.5,1100.6 906.5,1100.7 908.5,1100.9 910.5,1101 912.5,1101.1 914.5,1101.2 916.5,1101.3 918.5,1101.5 920.5,1101.6 922.5,1101.7 924.5,1101.8 926.5,1101.9 928.5,1102.1 930.5,1102.2 932.5,1102.3 934.5,1102.4 936.5,1102.5 938.5,1102.6 940.5,1102.8 942.5,1102.9 944.5,1103 946.4,1103.1 948.4,1103.2 950.4,1103.3 952.4,1103.5 954.4,1103.6 956.4,1103.7 958.4,1103.8 960.4,1103.9 962.4,1104 964.4,1104.2 966.4,1104.3"/>
<polyline fill="none" stroke="#141414" stroke-width="1.9" stroke-linejoin="round" points="118.8,1001.5 118.9,1025.1 119.5,1026.9 120.4,1028.5 121.6,1030.1 122.8,1031.6 124.2,1033 125.6,1034.4 127.1,1035.7 128.6,1037 130.2,1038.2 131.8,1039.4 133.4,1040.6 135,1041.7 136.7,1042.8 138.3,1043.9 140,1045 141.7,1046 143.4,1047 145.2,1048 146.9,1049 148.7,1050 150.4,1050.9 152.2,1051.8 154,1052.7 155.8,1053.6 157.5,1054.5 159.4,1055.4 161.2,1056.2 163,1057 164.8,1057.9 166.6,1058.7 168.5,1059.5 170.3,1060.2 172.1,1061 174,1061.8 175.9,1062.5 177.7,1063.2 179.6,1063.9 181.4,1064.7 183.3,1065.4 185.2,1066 187.1,1066.7 189,1067.4 190.8,1068 192.7,1068.7 194.6,1069.3 196.5,1070 198.4,1070.6 200.3,1071.2 202.2,1071.8 204.1,1072.4 206,1073 208,1073.6 209.9,1074.2 211.8,1074.7 213.7,1075.3 215.6,1075.9 217.5,1076.4 219.5,1077 221.4,1077.5 223.3,1078 225.2,1078.6 227.2,1079.1 229.1,1079.6 231,1080.1 233,1080.6 234.9,1081.1 236.8,1081.6 238.8,1082.1 240.7,1082.6 242.7,1083.1 244.6,1083.6 246.5,1084.1 248.5,1084.5 250.4,1085 252.4,1085.5 254.3,1085.9 256.3,1086.4 258.2,1086.8 260.2,1087.3 262.1,1087.7 264.1,1088.2 266,1088.6 268,1089.1 269.9,1089.5 271.9,1089.9 273.8,1090.4 275.8,1090.8 277.7,1091.2 279.7,1091.6 281.6,1092 283.6,1092.4 285.6,1092.8 287.5,1093.3 289.5,1093.7 291.4,1094.1 293.4,1094.5 295.4,1094.9 297.3,1095.2 299.3,1095.6 301.2,1096 303.2,1096.4 305.2,1096.8 307.1,1097.2 309.1,1097.5 311.1,1097.9 313,1098.3 315,1098.7 317,1099 318.9,1099.4 320.9,1099.8 322.8,1100.1 324.8,1100.5 326.8,1100.9 328.8,1101.2 330.7,1101.6 332.7,1101.9 334.7,1102.3 336.6,1102.6 338.6,1103 340.6,1103.3 342.5,1103.7 344.5,1104 346.5,1104.3 348.4,1104.7 350.4,1105 352.4,1105.4 354.4,1105.7 356.3,1106 358.3,1106.4 360.3,1106.7 362.3,1107 364.2,1107.3 366.2,1107.7 368.2,1108 370.1,1108.3 372.1,1108.6 374.1,1108.9 376.1,1109.3 378,1109.6 380,1109.9 382,1110.2 384,1110.5 385.9,1110.8 387.9,1111.1 389.9,1111.4 391.9,1111.7 393.9,1112 395.8,1112.3 397.8,1112.6 399.8,1112.9 401.8,1113.2 403.7,1113.5 405.7,1113.8 407.7,1114.1 409.7,1114.4 411.7,1114.7 413.6,1115 415.6,1115.3 417.6,1115.6 419.6,1115.9 421.5,1116.2 423.5,1116.4 425.5,1116.7 427.5,1117 429.5,1117.3 431.4,1117.6 433.4,1117.8 435.4,1118.1 437.4,1118.4 439.4,1118.7 441.4,1119 443.3,1119.2 445.3,1119.5 447.3,1119.8 449.3,1120 451.3,1120.3 453.2,1120.6 455.2,1120.8 457.2,1121.1 459.2,1121.4 461.2,1121.6 463.2,1121.9 465.1,1122.2 467.1,1122.4 469.1,1122.7 471.1,1123 473.1,1123.2 475,1123.5 477,1123.7 479,1124 481,1124.2 483,1124.5 485,1124.7 487,1125 488.9,1125.2 490.9,1125.5 492.9,1125.7 494.9,1126 496.9,1126.2 498.9,1126.5 500.8,1126.7 502.8,1127 504.8,1127.2 506.8,1127.5 508.8,1127.7 510.8,1128 512.8,1128.2 514.7,1128.4 516.7,1128.7 518.7,1128.9 520.7,1129.2 522.7,1129.4 524.7,1129.6 526.7,1129.9 528.6,1130.1 530.6,1130.3 532.6,1130.6 534.6,1130.8 536.6,1131 538.6,1131.3 540.6,1131.5 542.5,1131.7 544.5,1132 546.5,1132.2 548.5,1132.4 550.5,1132.6 552.5,1132.9 554.5,1133.1 556.5,1133.3 558.4,1133.5 560.4,1133.8 562.4,1134 564.4,1134.2 566.4,1134.4 568.4,1134.7 570.4,1134.9 572.4,1135.1 574.3,1135.3 576.3,1135.5 578.3,1135.7 580.3,1136 582.3,1136.2 584.3,1136.4 586.3,1136.6 588.3,1136.8 590.2,1137 592.2,1137.3 594.2,1137.5 596.2,1137.7 598.2,1137.9 600.2,1138.1 602.2,1138.3 604.2,1138.5 606.2,1138.7 608.1,1138.9 610.1,1139.1 612.1,1139.4 614.1,1139.6 616.1,1139.8 618.1,1140 620.1,1140.2 622.1,1140.4 624.1,1140.6 626.1,1140.8 628,1141 630,1141.2 632,1141.4 634,1141.6 636,1141.8 638,1142 640,1142.2 642,1142.4 644,1142.6 646,1142.8 647.9,1143 649.9,1143.2 651.9,1143.4 653.9,1143.6 655.9,1143.8 657.9,1144 659.9,1144.2 661.9,1144.4 663.9,1144.5 665.9,1144.7 667.8,1144.9 669.8,1145.1 671.8,1145.3 673.8,1145.5 675.8,1145.7 677.8,1145.9 679.8,1146.1 681.8,1146.3 683.8,1146.4 685.8,1146.6 687.8,1146.8 689.7,1147 691.7,1147.2 693.7,1147.4 695.7,1147.6 697.7,1147.8 699.7,1147.9 701.7,1148.1 703.7,1148.3 705.7,1148.5 707.7,1148.7 709.7,1148.9 711.7,1149 713.6,1149.2 715.6,1149.4 717.6,1149.6 719.6,1149.8 721.6,1149.9 723.6,1150.1 725.6,1150.3 727.6,1150.5 729.6,1150.6 731.6,1150.8 733.6,1151 735.6,1151.2 737.5,1151.4 739.5,1151.5 741.5,1151.7 743.5,1151.9 745.5,1152.1 747.5,1152.2 749.5,1152.4 751.5,1152.6 753.5,1152.7 755.5,1152.9 757.5,1153.1 759.5,1153.3 761.5,1153.4 763.5,1153.6 765.4,1153.8 767.4,1153.9 769.4,1154.1 771.4,1154.3 773.4,1154.5 775.4,1154.6 777.4,1154.8 779.4,1155 781.4,1155.1 783.4,1155.3 785.4,1155.5 787.4,1155.6 789.4,1155.8 791.4,1156 793.3,1156.1 795.3,1156.3 797.3,1156.4 799.3,1156.6 801.3,1156.8 803.3,1156.9 805.3,1157.1 807.3,1157.3 809.3,1157.4 811.3,1157.6 813.3,1157.7 815.3,1157.9 817.3,1158.1 819.3,1158.2 821.3,1158.4 823.2,1158.5 825.2,1158.7 827.2,1158.9 829.2,1159 831.2,1159.2 833.2,1159.3 835.2,1159.5 837.2,1159.7 839.2,1159.8 841.2,1160 843.2,1160.1 845.2,1160.3 847.2,1160.4 849.2,1160.6 851.2,1160.7 853.2,1160.9 855.1,1161 857.1,1161.2 859.1,1161.4 861.1,1161.5 863.1,1161.7 865.1,1161.8 867.1,1162 869.1,1162.1 871.1,1162.3 873.1,1162.4 875.1,1162.6 877.1,1162.7 879.1,1162.9 881.1,1163 883.1,1163.2 885.1,1163.3 887.1,1163.5 889.1,1163.6 891,1163.8 893,1163.9 895,1164.1 897,1164.2 899,1164.4 901,1164.5 903,1164.6 905,1164.8 907,1164.9 909,1165.1 911,1165.2 913,1165.4 915,1165.5 917,1165.7 919,1165.8 921,1166 923,1166.1 925,1166.2 927,1166.4 928.9,1166.5 930.9,1166.7 932.9,1166.8 934.9,1167 936.9,1167.1 938.9,1167.2 940.9,1167.4 942.9,1167.5 944.9,1167.7 946.9,1167.8 948.9,1167.9 950.9,1168.1 952.9,1168.2 954.9,1168.4 956.9,1168.5 958.9,1168.6 960.9,1168.8 962.9,1168.9 964.9,1169 966.4,1169.1"/>
<polyline fill="none" stroke="#141414" stroke-width="1.9" stroke-linejoin="round" points="118.8,1001.5 118.9,1043.2 119.3,1045.3 119.8,1047.2 120.5,1049.1 121.2,1050.9 122.1,1052.6 123,1054.4 124,1056.1 125,1057.8 126.1,1059.4 127.3,1061 128.5,1062.6 129.7,1064.2 130.9,1065.7 132.2,1067.2 133.5,1068.7 134.9,1070.2 136.2,1071.6 137.6,1073.1 139,1074.5 140.5,1075.9 141.9,1077.2 143.4,1078.6 144.9,1079.9 146.4,1081.2 147.9,1082.5 149.4,1083.8 151,1085 152.5,1086.3 154.1,1087.5 155.7,1088.7 157.3,1089.9 158.9,1091.1 160.5,1092.2 162.2,1093.4 163.8,1094.5 165.5,1095.6 167.1,1096.7 168.8,1097.8 170.5,1098.8 172.2,1099.9 173.9,1100.9 175.6,1102 177.3,1103 179.1,1104 180.8,1104.9 182.6,1105.9 184.3,1106.9 186.1,1107.8 187.8,1108.7 189.6,1109.6 191.4,1110.5 193.2,1111.4 195,1112.3 196.8,1113.2 198.6,1114 200.4,1114.9 202.2,1115.7 204,1116.5 205.9,1117.4 207.7,1118.2 209.5,1119 211.4,1119.7 213.2,1120.5 215,1121.3 216.9,1122 218.7,1122.8 220.6,1123.5 222.5,1124.3 224.3,1125 226.2,1125.7 228.1,1126.4 229.9,1127.1 231.8,1127.8 233.7,1128.5 235.6,1129.2 237.4,1129.8 239.3,1130.5 241.2,1131.2 243.1,1131.8 245,1132.5 246.9,1133.1 248.8,1133.7 250.7,1134.4 252.6,1135 254.5,1135.6 256.4,1136.2 258.3,1136.8 260.2,1137.4 262.1,1138 264,1138.6 265.9,1139.2 267.8,1139.8 269.8,1140.3 271.7,1140.9 273.6,1141.5 275.5,1142 277.4,1142.6 279.4,1143.1 281.3,1143.7 283.2,1144.2 285.1,1144.8 287.1,1145.3 289,1145.8 290.9,1146.3 292.9,1146.9 294.8,1147.4 296.7,1147.9 298.7,1148.4 300.6,1148.9 302.5,1149.4 304.5,1149.9 306.4,1150.4 308.3,1150.9 310.3,1151.4 312.2,1151.8 314.2,1152.3 316.1,1152.8 318.1,1153.3 320,1153.7 321.9,1154.2 323.9,1154.7 325.8,1155.1 327.8,1155.6 329.7,1156 331.7,1156.5 333.6,1156.9 335.6,1157.4 337.5,1157.8 339.5,1158.2 341.4,1158.7 343.4,1159.1 345.3,1159.5 347.3,1159.9 349.2,1160.4 351.2,1160.8 353.2,1161.2 355.1,1161.6 357.1,1162 359,1162.4 361,1162.9 362.9,1163.3 364.9,1163.7 366.9,1164.1 368.8,1164.5 370.8,1164.9 372.7,1165.3 374.7,1165.6 376.7,1166 378.6,1166.4 380.6,1166.8 382.6,1167.2 384.5,1167.6 386.5,1167.9 388.4,1168.3 390.4,1168.7 392.4,1169.1 394.3,1169.4 396.3,1169.8 398.3,1170.2 400.2,1170.5 402.2,1170.9 404.2,1171.3 406.1,1171.6 408.1,1172 410.1,1172.3 412,1172.7 414,1173 416,1173.4 417.9,1173.7 419.9,1174.1 421.9,1174.4 423.9,1174.8 425.8,1175.1 427.8,1175.4 429.8,1175.8 431.7,1176.1 433.7,1176.4 435.7,1176.8 437.7,1177.1 439.6,1177.4 441.6,1177.8 443.6,1178.1 445.6,1178.4 447.5,1178.7 449.5,1179.1 451.5,1179.4 453.4,1179.7 455.4,1180 457.4,1180.3 459.4,1180.7 461.3,1181 463.3,1181.3 465.3,1181.6 467.3,1181.9 469.3,1182.2 471.2,1182.5 473.2,1182.8 475.2,1183.1 477.2,1183.4 479.1,1183.7 481.1,1184 483.1,1184.3 485.1,1184.6 487,1184.9 489,1185.2 491,1185.5 493,1185.8 495,1186.1 496.9,1186.4 498.9,1186.7 500.9,1187 502.9,1187.2 504.9,1187.5 506.8,1187.8 508.8,1188.1 510.8,1188.4 512.8,1188.7 514.8,1188.9 516.7,1189.2 518.7,1189.5 520.7,1189.8 522.7,1190.1 524.7,1190.3 526.6,1190.6 528.6,1190.9 530.6,1191.2 532.6,1191.4 534.6,1191.7 536.5,1192 538.5,1192.2 540.5,1192.5 542.5,1192.8 544.5,1193 546.5,1193.3 548.4,1193.6 550.4,1193.8 552.4,1194.1 554.4,1194.3 556.4,1194.6 558.4,1194.9 560.3,1195.1 562.3,1195.4 564.3,1195.6 566.3,1195.9 568.3,1196.1 570.3,1196.4 572.2,1196.7 574.2,1196.9 576.2,1197.2 578.2,1197.4 580.2,1197.7 582.2,1197.9 584.1,1198.2 586.1,1198.4 588.1,1198.6 590.1,1198.9 592.1,1199.1 594.1,1199.4 596.1,1199.6 598,1199.9 600,1200.1 602,1200.4 604,1200.6 606,1200.8 608,1201.1 609.9,1201.3 611.9,1201.6 613.9,1201.8 615.9,1202 617.9,1202.3 619.9,1202.5 621.9,1202.7 623.9,1203 625.8,1203.2 627.8,1203.4 629.8,1203.7 631.8,1203.9 633.8,1204.1 635.8,1204.4 637.8,1204.6 639.7,1204.8 641.7,1205 643.7,1205.3 645.7,1205.5 647.7,1205.7 649.7,1205.9 651.7,1206.2 653.7,1206.4 655.6,1206.6 657.6,1206.8 659.6,1207.1 661.6,1207.3 663.6,1207.5 665.6,1207.7 667.6,1207.9 669.6,1208.2 671.5,1208.4 673.5,1208.6 675.5,1208.8 677.5,1209 679.5,1209.3 681.5,1209.5 683.5,1209.7 685.5,1209.9 687.4,1210.1 689.4,1210.3 691.4,1210.6 693.4,1210.8 695.4,1211 697.4,1211.2 699.4,1211.4 701.4,1211.6 703.4,1211.8 705.3,1212 707.3,1212.2 709.3,1212.5 711.3,1212.7 713.3,1212.9 715.3,1213.1 717.3,1213.3 719.3,1213.5 721.3,1213.7 723.2,1213.9 725.2,1214.1 727.2,1214.3 729.2,1214.5 731.2,1214.7 733.2,1214.9 735.2,1215.1 737.2,1215.3 739.2,1215.5 741.2,1215.7 743.1,1215.9 745.1,1216.1 747.1,1216.3 749.1,1216.5 751.1,1216.7 753.1,1216.9 755.1,1217.1 757.1,1217.3 759.1,1217.5 761.1,1217.7 763,1217.9 765,1218.1 767,1218.3 769,1218.5 771,1218.7 773,1218.9 775,1219.1 777,1219.3 779,1219.5 781,1219.7 782.9,1219.9 784.9,1220.1 786.9,1220.3 788.9,1220.5 790.9,1220.7 792.9,1220.9 794.9,1221.1 796.9,1221.2 798.9,1221.4 800.9,1221.6 802.9,1221.8 804.8,1222 806.8,1222.2 808.8,1222.4 810.8,1222.6 812.8,1222.8 814.8,1222.9 816.8,1223.1 818.8,1223.3 820.8,1223.5 822.8,1223.7 824.8,1223.9 826.7,1224.1 828.7,1224.3 830.7,1224.4 832.7,1224.6 834.7,1224.8 836.7,1225 838.7,1225.2 840.7,1225.4 842.7,1225.6 844.7,1225.7 846.7,1225.9 848.7,1226.1 850.6,1226.3 852.6,1226.5 854.6,1226.7 856.6,1226.8 858.6,1227 860.6,1227.2 862.6,1227.4 864.6,1227.6 866.6,1227.7 868.6,1227.9 870.6,1228.1 872.6,1228.3 874.5,1228.5 876.5,1228.6 878.5,1228.8 880.5,1229 882.5,1229.2 884.5,1229.4 886.5,1229.5 888.5,1229.7 890.5,1229.9 892.5,1230.1 894.5,1230.2 896.5,1230.4 898.5,1230.6 900.4,1230.8 902.4,1230.9 904.4,1231.1 906.4,1231.3 908.4,1231.5 910.4,1231.6 912.4,1231.8 914.4,1232 916.4,1232.2 918.4,1232.3 920.4,1232.5 922.4,1232.7 924.4,1232.9 926.3,1233 928.3,1233.2 930.3,1233.4 932.3,1233.6 934.3,1233.7 936.3,1233.9 938.3,1234.1 940.3,1234.2 942.3,1234.4 944.3,1234.6 946.3,1234.8 948.3,1234.9 950.3,1235.1 952.2,1235.3 954.2,1235.4 956.2,1235.6 958.2,1235.8 960.2,1236 962.2,1236.1 964.2,1236.3 966.2,1236.5 966.4,1236.5"/>
<polyline fill="none" stroke="#141414" stroke-width="1.9" stroke-linejoin="round" points="118.8,1001.5 118.8,1140 119.1,1142.6 119.5,1144.7 119.8,1146.6 120.2,1148.6 120.6,1150.6 121.1,1152.5 121.5,1154.5 122,1156.4 122.4,1158.4 122.9,1160.3 123.3,1162.3 123.8,1164.2 124.2,1166.2 124.7,1168.1 125.2,1170.1 125.7,1172 126.2,1174 126.6,1175.9 127.1,1177.8 127.6,1179.8 128.1,1181.7 128.6,1183.6 129.1,1185.6 129.6,1187.5 130.1,1189.4 130.7,1191.4 131.2,1193.3 131.7,1195.2 132.3,1197.1 132.9,1199.1 133.5,1201 134,1202.9 134.6,1204.8 135.3,1206.7 135.9,1208.6 136.5,1210.5 137.2,1212.3 137.9,1214.2 138.6,1216.1 139.3,1218 140,1219.8 140.7,1221.7 141.5,1223.5 142.3,1225.3 143.1,1227.2 143.9,1229 144.7,1230.8 145.6,1232.6 146.4,1234.4 147.3,1236.1 148.3,1237.9 149.2,1239.7 150.1,1241.4 151.1,1243.2 152.1,1244.9 153.1,1246.6 154.2,1248.3 155.2,1250 156.3,1251.7 157.4,1253.3 158.5,1255 159.6,1256.6 160.7,1258.3 161.9,1259.9 163.1,1261.5 164.3,1263.1 165.5,1264.7 166.7,1266.2 168,1267.8 169.2,1269.3 170.5,1270.9 171.8,1272.4 173.1,1273.9 174.4,1275.4 175.7,1276.9 177.1,1278.4 178.4,1279.8 179.8,1281.3 181.2,1282.7 182.5,1284.1 183.9,1285.6 185.4,1287 186.8,1288.4 188.2,1289.8 189.7,1291.1 191.1,1292.5 192.6,1293.9 194.1,1295.2 195.5,1296.5 197,1297.9 198.5,1299.2 200.1,1300.5 201.6,1301.8 203.1,1303 204.6,1304.3 206.2,1305.6 207.8,1306.8 209.3,1308.1 210.9,1309.3 212.5,1310.5 214.1,1311.7 215.6,1312.9 217.3,1314.1 218.9,1315.3 220.5,1316.5 222.1,1317.6 223.7,1318.8 225.4,1319.9 227,1321.1 228.6,1322.2 230.3,1323.3 232,1324.5 233.6,1325.6 235.3,1326.7 237,1327.7 238.6,1328.8 240.3,1329.9 242,1331 243.7,1332 245.4,1333.1 247.1,1334.1 248.8,1335.2 250.5,1336.2 252.3,1337.2 254,1338.2 255.7,1339.2 257.4,1340.2 259.2,1341.2 260.9,1342.2 262.6,1343.2 264.4,1344.2 266.1,1345.2 267.9,1346.1 269.6,1347.1 271.4,1348 273.2,1349 274.9,1349.9 276.7,1350.9 278.4,1351.8 280.2,1352.7 282,1353.6 283.8,1354.6 285.6,1355.5 287.3,1356.4 289.1,1357.3 290.9,1358.2 292.7,1359.1 294.5,1359.9 296.3,1360.8 298.1,1361.7 299.9,1362.6 301.7,1363.4 303.5,1364.3 305.3,1365.2 307.1,1366 308.9,1366.9 310.7,1367.7 312.5,1368.6 314.3,1369.4 316.1,1370.3 318,1371.1 319.8,1371.9 321.6,1372.8 323.4,1373.6 325.2,1374.4 327.1,1375.2 328.9,1376.1 330.7,1376.9 332.5,1377.7 334.4,1378.5 336.2,1379.3 338,1380.1 339.9,1380.9 341.7,1381.7 343.5,1382.5 345.4,1383.3 347.2,1384.1 349,1384.9 350.9,1385.7 352.7,1386.4 354.6,1387.2 356.4,1388 358.2,1388.8 360.1,1389.6 361.9,1390.3 363.8,1391.1 365.6,1391.9 367.5,1392.7 369.3,1393.4 371.1,1394.2 373,1395 374.8,1395.7 376.7,1396.5 378.5,1397.3 380.4,1398 382.2,1398.8 384.1,1399.5 385.9,1400.3 387.8,1401 389.6,1401.8 391.5,1402.6 393.3,1403.3 395.2,1404.1 397.1,1404.8 398.9,1405.6 400.8,1406.3 402.6,1407.1 404.5,1407.8 406.3,1408.5 408.2,1409.3 410,1410 411.9,1410.8 413.8,1411.5 415.6,1412.3 417.5,1413 419.3,1413.8 421.2,1414.5 423,1415.2 424.9,1416 426.8,1416.7 428.6,1417.5 430.5,1418.2 432.3,1418.9 434.2,1419.7 436,1420.4 437.9,1421.1 439.8,1421.9 441.6,1422.6 443.5,1423.4 445.3,1424.1 447.2,1424.8 449.1,1425.6 450.9,1426.3 452.8,1427 454.6,1427.8 456.5,1428.5 458.4,1429.3 460.2,1430 462.1,1430.7 463.9,1431.5 465.8,1432.2 467.7,1432.9 469.5,1433.7 471.4,1434.4 473.2,1435.1 475.1,1435.9 477,1436.6 478.8,1437.4 480.7,1438.1 482.5,1438.8 484.4,1439.6 486.2,1440.3 488.1,1441.1 490,1441.8 491.8,1442.5 493.7,1443.3 495.5,1444 497.4,1444.8 499.2,1445.5 501.1,1446.2 503,1447 504.8,1447.7 506.7,1448.5 508.5,1449.2 510.4,1450 512.2,1450.7 514.1,1451.5 516,1452.2 517.8,1453 519.7,1453.7 521.5,1454.4 523.4,1455.2 525.2,1455.9 527.1,1456.7 528.9,1457.4 530.8,1458.2 532.6,1459 534.5,1459.7 536.3,1460.5 538.2,1461.2 540.1,1462 541.9,1462.7 543.8,1463.5 545.6,1464.2 547.5,1465 549.3,1465.8 551.2,1466.5 553,1467.3 554.9,1468 556.7,1468.8 558.6,1469.6 560.4,1470.3 562.3,1471.1 564.1,1471.8 566,1472.6 567.8,1473.4 569.6,1474.1 571.5,1474.9 573.3,1475.7 575.2,1476.5 577,1477.2 578.9,1478 580.7,1478.8 582.6,1479.5 584.4,1480.3 586.3,1481.1 588.1,1481.9 589.9,1482.6 591.8,1483.4 593.6,1484.2 595.5,1485 597.3,1485.8 599.1,1486.6 601,1487.3 602.8,1488.1 604.7,1488.9 606.5,1489.7 608.3,1490.5 610.2,1491.3 612,1492.1 613.9,1492.8 615.7,1493.6 617.5,1494.4 619.4,1495.2 621.2,1496 623,1496.8 624.9,1497.6 626.7,1498.4 628.5,1499.2 630.4,1500 632.2,1500.8 634,1501.6 635.9,1502.4 637.7,1503.2 639.5,1504 641.4,1504.8 643.2,1505.6 645,1506.4 646.9,1507.2 648.7,1508.1 650.5,1508.9 652.3,1509.7 654.2,1510.5 656,1511.3 657.8,1512.1 659.6,1512.9 661.5,1513.8 663.3,1514.6 665.1,1515.4 666.9,1516.2 668.8,1517 670.6,1517.9 672.4,1518.7 674.2,1519.5 676.1,1520.3 677.9,1521.2 679.7,1522 681.5,1522.8 683.3,1523.7 685.2,1524.5 687,1525.3 688.8,1526.2 690.6,1527 692.4,1527.8 694.2,1528.7 696.1,1529.5 697.9,1530.4 699.7,1531.2 701.5,1532 703.3,1532.9 705.1,1533.7 706.9,1534.6 708.7,1535.4 710.6,1536.3 712.4,1537.1 714.2,1538 716,1538.8 717.8,1539.7 719.6,1540.5 721.4,1541.4 723.2,1542.3 725,1543.1 726.8,1544 728.6,1544.8 730.4,1545.7 732.2,1546.6 734,1547.4 735.9,1548.3 737.7,1549.2 739.5,1550 741.3,1550.9 743.1,1551.8 744.9,1552.6 746.7,1553.5 748.5,1554.4 750.3,1555.3 752.1,1556.2 753.8,1557 755.6,1557.9 757.4,1558.8 759.2,1559.7 761,1560.6 762.8,1561.4 764.6,1562.3 766.4,1563.2 768.2,1564.1 770,1565 771.8,1565.9 773.6,1566.8 775.4,1567.7 777.2,1568.6 778.9,1569.5 780.7,1570.3 782.5,1571.2 784.3,1572.1 786.1,1573 787.9,1573.9 789.7,1574.8 791.4,1575.8 793.2,1576.7 795,1577.6 796.8,1578.5 798.6,1579.4 800.4,1580.3 802.1,1581.2 803.9,1582.1 805.7,1583 807.5,1583.9 809.3,1584.9 811,1585.8 812.8,1586.7 814.6,1587.6 816.4,1588.5 818.1,1589.5 819.9,1590.4 821.7,1591.3 823.5,1592.2 825.2,1593.2 827,1594.1 828.8,1595 830.6,1595.9 832.3,1596.9 834.1,1597.8 835.9,1598.7 837.6,1599.7 839.4,1600.6 841.2,1601.5 842.9,1602.5 844.7,1603.4 846.5,1604.4 848.2,1605.3 850,1606.3 851.8,1607.2 853.5,1608.1 855.3,1609.1 857,1610 858.8,1611 860.6,1611.9 862.3,1612.9 864.1,1613.8 865.8,1614.8 867.6,1615.8 869.3,1616.7 871.1,1617.7 872.9,1618.6 874.6,1619.6 876.4,1620.5 878.1,1621.5 879.9,1622.5 881.6,1623.4 883.4,1624.4 885.1,1625.4 886.9,1626.3 888.6,1627.3 890.4,1628.3 892.1,1629.3 893.9,1630.2 895.6,1631.2 897.4,1632.2 899.1,1633.2 900.9,1634.1 902.6,1635.1 904.3,1636.1 906.1,1637.1 907.8,1638.1 909.6,1639 911.3,1640 913,1641 914.8,1642 916.5,1643 918.3,1644 920,1645 920.8,1645.4"/>
</g>
<g clip-path="url(#cb)" transform="translate(1081.3,-1.4)">
<use href="#lines-b"/>
</g>
<g fill="none" stroke="#141414" stroke-width="1.8">
<circle cx="116.9" cy="998" r="3.1"/>
<circle cx="117.7" cy="998.8" r="3.1"/>
<circle cx="117.3" cy="998.4" r="3.1"/>
<circle cx="123.8" cy="1007.5" r="3.1"/>
<circle cx="131.5" cy="1008.9" r="3.1"/>
<circle cx="192.9" cy="1018.4" r="3.1"/>
<circle cx="255.9" cy="1023" r="3.1"/>
<circle cx="317.3" cy="1027.8" r="3.1"/>
<circle cx="378.7" cy="1030.9" r="3.1"/>
<circle cx="440.1" cy="1035.6" r="3.1"/>
<circle cx="501.5" cy="1039" r="3.1"/>
<circle cx="564.3" cy="1041.9" r="3.1"/>
<circle cx="625.7" cy="1045" r="3.1"/>
<circle cx="686.9" cy="1048.3" r="3.1"/>
<circle cx="748.5" cy="1051.4" r="3.1"/>
<circle cx="809.9" cy="1054.7" r="3.1"/>
<circle cx="872.8" cy="1056" r="3.1"/>
<circle cx="934.3" cy="1059.3" r="3.1"/>
<circle cx="123.8" cy="1016.6" r="3.1"/>
<circle cx="131.5" cy="1021.6" r="3.1"/>
<circle cx="192.9" cy="1037.5" r="3.1"/>
<circle cx="255.9" cy="1046.7" r="3.1"/>
<circle cx="317.3" cy="1054.7" r="3.1"/>
<circle cx="378.7" cy="1062.7" r="3.1"/>
<circle cx="440.1" cy="1068.6" r="3.1"/>
<circle cx="501.5" cy="1073.6" r="3.1"/>
<circle cx="564.3" cy="1079.8" r="3.1"/>
<circle cx="625.7" cy="1084.4" r="3.1"/>
<circle cx="686.9" cy="1089.2" r="3.1"/>
<circle cx="748.5" cy="1093.9" r="3.1"/>
<circle cx="809.9" cy="1097.3" r="3.1"/>
<circle cx="872.8" cy="1102" r="3.1"/>
<circle cx="934.3" cy="1105.1" r="3.1"/>
<circle cx="123.8" cy="1037.2" r="3.1"/>
<circle cx="131.5" cy="1043.7" r="3.1"/>
<circle cx="192.9" cy="1073.5" r="3.1"/>
<circle cx="255.9" cy="1092.5" r="3.1"/>
<circle cx="317.3" cy="1105.1" r="3.1"/>
<circle cx="378.7" cy="1116.1" r="3.1"/>
<circle cx="440.1" cy="1125.4" r="3.1"/>
<circle cx="501.5" cy="1133.1" r="3.1"/>
<circle cx="564.3" cy="1141.2" r="3.1"/>
<circle cx="625.7" cy="1147.2" r="3.1"/>
<circle cx="686.9" cy="1153.7" r="3.1"/>
<circle cx="748.5" cy="1158.6" r="3.1"/>
<circle cx="809.9" cy="1163.2" r="3.1"/>
<circle cx="872.8" cy="1167.9" r="3.1"/>
<circle cx="934.3" cy="1172.7" r="3.1"/>
<circle cx="123.8" cy="1062.5" r="3.1"/>
<circle cx="131.5" cy="1073.3" r="3.1"/>
<circle cx="192.9" cy="1120.7" r="3.1"/>
<circle cx="255.9" cy="1146" r="3.1"/>
<circle cx="317.3" cy="1163.2" r="3.1"/>
<circle cx="378.7" cy="1175.9" r="3.1"/>
<circle cx="440.1" cy="1186.8" r="3.1"/>
<circle cx="501.5" cy="1196.2" r="3.1"/>
<circle cx="564.3" cy="1205.5" r="3.1"/>
<circle cx="625.7" cy="1211.9" r="3.1"/>
<circle cx="686.9" cy="1219.8" r="3.1"/>
<circle cx="748.5" cy="1226.2" r="3.1"/>
<circle cx="809.9" cy="1232.4" r="3.1"/>
<circle cx="872.8" cy="1237.2" r="3.1"/>
<circle cx="934.3" cy="1243.4" r="3.1"/>
<circle cx="123.8" cy="1188.3" r="3.1"/>
<circle cx="131.5" cy="1218.3" r="3.1"/>
<circle cx="153.5" cy="1270.2" r="3.1"/>
<circle cx="192.9" cy="1322.3" r="3.1"/>
<circle cx="255.9" cy="1368" r="3.1"/>
<circle cx="317.3" cy="1399.3" r="3.1"/>
<circle cx="378.7" cy="1426" r="3.1"/>
<circle cx="440.1" cy="1449.8" r="3.1"/>
<circle cx="501.5" cy="1474.9" r="3.1"/>
<circle cx="564.3" cy="1500" r="3.1"/>
<circle cx="625.7" cy="1525.1" r="3.1"/>
<circle cx="686.9" cy="1553.6" r="3.1"/>
<circle cx="748.5" cy="1583.4" r="3.1"/>
<circle cx="809.9" cy="1613.3" r="3.1"/>
<circle cx="1198.2" cy="996.8" r="3.1"/>
<circle cx="1199" cy="997.6" r="3.1"/>
<circle cx="1198.6" cy="997.2" r="3.1"/>
<circle cx="1205.1" cy="1005.8" r="3.1"/>
<circle cx="1212.8" cy="1007.5" r="3.1"/>
<circle cx="1274.2" cy="1015.3" r="3.1"/>
<circle cx="1337.2" cy="1021.3" r="3.1"/>
<circle cx="1398.6" cy="1026.4" r="3.1"/>
<circle cx="1460" cy="1029.5" r="3.1"/>
<circle cx="1521.4" cy="1032.5" r="3.1"/>
<circle cx="1582.8" cy="1037.3" r="3.1"/>
<circle cx="1645.6" cy="1040.2" r="3.1"/>
<circle cx="1707" cy="1043.7" r="3.1"/>
<circle cx="1768.2" cy="1046.6" r="3.1"/>
<circle cx="1829.8" cy="1050" r="3.1"/>
<circle cx="1891.2" cy="1051.4" r="3.1"/>
<circle cx="1954.1" cy="1054.3" r="3.1"/>
<circle cx="2015.6" cy="1057.8" r="3.1"/>
<circle cx="1205.1" cy="1015.3" r="3.1"/>
<circle cx="1212.8" cy="1018.2" r="3.1"/>
<circle cx="1274.2" cy="1034.2" r="3.1"/>
<circle cx="1337.2" cy="1043.7" r="3.1"/>
<circle cx="1398.6" cy="1053.1" r="3.1"/>
<circle cx="1460" cy="1059.5" r="3.1"/>
<circle cx="1521.4" cy="1065.5" r="3.1"/>
<circle cx="1582.8" cy="1070.3" r="3.1"/>
<circle cx="1645.6" cy="1076.7" r="3.1"/>
<circle cx="1707" cy="1081.5" r="3.1"/>
<circle cx="1768.2" cy="1086.1" r="3.1"/>
<circle cx="1829.8" cy="1091" r="3.1"/>
<circle cx="1891.2" cy="1095.6" r="3.1"/>
<circle cx="1954.1" cy="1098.7" r="3.1"/>
<circle cx="2015.6" cy="1103.5" r="3.1"/>
<circle cx="1205.1" cy="1032.5" r="3.1"/>
<circle cx="1212.8" cy="1040.6" r="3.1"/>
<circle cx="1274.2" cy="1070.3" r="3.1"/>
<circle cx="1337.2" cy="1087.5" r="3.1"/>
<circle cx="1398.6" cy="1100.4" r="3.1"/>
<circle cx="1460" cy="1111.3" r="3.1"/>
<circle cx="1521.4" cy="1120.7" r="3.1"/>
<circle cx="1582.8" cy="1128.5" r="3.1"/>
<circle cx="1645.6" cy="1136.2" r="3.1"/>
<circle cx="1707" cy="1142.6" r="3.1"/>
<circle cx="1768.2" cy="1149.1" r="3.1"/>
<circle cx="1829.8" cy="1155.5" r="3.1"/>
<circle cx="1891.2" cy="1160.1" r="3.1"/>
<circle cx="1954.1" cy="1164.9" r="3.1"/>
<circle cx="2015.6" cy="1169.6" r="3.1"/>
<circle cx="1205.1" cy="1056.2" r="3.1"/>
<circle cx="1212.8" cy="1067.4" r="3.1"/>
<circle cx="1274.2" cy="1114.2" r="3.1"/>
<circle cx="1337.2" cy="1139.6" r="3.1"/>
<circle cx="1398.6" cy="1156.8" r="3.1"/>
<circle cx="1460" cy="1171" r="3.1"/>
<circle cx="1521.4" cy="1182.1" r="3.1"/>
<circle cx="1582.8" cy="1191.6" r="3.1"/>
<circle cx="1645.6" cy="1199.3" r="3.1"/>
<circle cx="1707" cy="1207.4" r="3.1"/>
<circle cx="1768.2" cy="1213.6" r="3.1"/>
<circle cx="1829.8" cy="1219.6" r="3.1"/>
<circle cx="1891.2" cy="1226" r="3.1"/>
<circle cx="1954.1" cy="1232.4" r="3.1"/>
<circle cx="2015.6" cy="1237.2" r="3.1"/>
<circle cx="1205.1" cy="1172.7" r="3.1"/>
<circle cx="1212.9" cy="1204" r="3.1"/>
<circle cx="1234.7" cy="1256.1" r="3.1"/>
<circle cx="1274.3" cy="1308.2" r="3.1"/>
<circle cx="1337.4" cy="1353.8" r="3.1"/>
<circle cx="1398.7" cy="1385.2" r="3.1"/>
<circle cx="1460.1" cy="1410.5" r="3.1"/>
<circle cx="1521.6" cy="1435.6" r="3.1"/>
<circle cx="1582.9" cy="1460.9" r="3.1"/>
<circle cx="1646" cy="1486.1" r="3.1"/>
<circle cx="1707.4" cy="1511.3" r="3.1"/>
<circle cx="1768.6" cy="1539.4" r="3.1"/>
<circle cx="1830.2" cy="1567.7" r="3.1"/>
<circle cx="1891.5" cy="1599.3" r="3.1"/>
<circle cx="1954.4" cy="1634" r="3.1"/>
</g>
<text x="871.4" y="1040" font-size="30.4" font-weight="bold" fill="#1b1b1b" textLength="65.2" lengthAdjust="spacingAndGlyphs">C<tspan font-size="38" dy="3">/</tspan><tspan dy="-3">20</tspan></text>
<text x="872.8" y="1092" font-size="30.4" font-weight="bold" fill="#1b1b1b" textLength="65.6" lengthAdjust="spacingAndGlyphs">C<tspan font-size="38" dy="3">/</tspan><tspan dy="-3">10</tspan></text>
<text x="872.8" y="1150.5" font-size="30.4" font-weight="bold" fill="#1b1b1b" textLength="48.2" lengthAdjust="spacingAndGlyphs">C<tspan font-size="38" dy="3">/</tspan><tspan dy="-3">5</tspan></text>
<text x="872.8" y="1219" font-size="30.4" font-weight="bold" fill="#1b1b1b" textLength="47.4" lengthAdjust="spacingAndGlyphs">C<tspan font-size="38" dy="3">/</tspan><tspan dy="-3">3</tspan></text>
<text x="872.8" y="1608.7" font-size="30.4" font-weight="bold" fill="#1b1b1b" textLength="35.5" lengthAdjust="spacingAndGlyphs">1C</text>
<text x="1954.6" y="1039.4" font-size="30.4" font-weight="bold" fill="#1b1b1b" textLength="65.2" lengthAdjust="spacingAndGlyphs">C<tspan font-size="38" dy="3">/</tspan><tspan dy="-3">20</tspan></text>
<text x="1956" y="1091.8" font-size="30.4" font-weight="bold" fill="#1b1b1b" textLength="65.6" lengthAdjust="spacingAndGlyphs">C<tspan font-size="38" dy="3">/</tspan><tspan dy="-3">10</tspan></text>
<text x="1956" y="1150.3" font-size="30.4" font-weight="bold" fill="#1b1b1b" textLength="48.8" lengthAdjust="spacingAndGlyphs">C<tspan font-size="38" dy="3">/</tspan><tspan dy="-3">5</tspan></text>
<text x="1955.2" y="1218.3" font-size="30.4" font-weight="bold" fill="#1b1b1b" textLength="49" lengthAdjust="spacingAndGlyphs">C<tspan font-size="38" dy="3">/</tspan><tspan dy="-3">3</tspan></text>
<text x="1956.8" y="1608.4" font-size="30.4" font-weight="bold" fill="#1b1b1b" textLength="34.2" lengthAdjust="spacingAndGlyphs">1C</text>
<rect x="447.7" y="1296.1" width="208.3" height="96.4" fill="#fff" stroke="#222222" stroke-width="1.6"/>
<line x1="456.8" y1="1319.7" x2="497.5" y2="1319.7" stroke="#141414" stroke-width="1.5"/>
<text x="501" y="1329.3" font-size="26" textLength="146" lengthAdjust="spacingAndGlyphs" fill="#737478">without R.E.</text>
<circle cx="476.2" cy="1367" r="3.1" fill="none" stroke="#141414" stroke-width="1.7"/>
<text x="501" y="1377.8" font-size="26" textLength="105" lengthAdjust="spacingAndGlyphs" fill="#737478">with R.E.</text>
<rect x="1528.9" y="1294.4" width="408.4" height="96" fill="#fff" stroke="#222222" stroke-width="1.6"/>
<line x1="1554" y1="1317.8" x2="1594.4" y2="1317.8" stroke="#141414" stroke-width="1.5"/>
<text x="1599" y="1327.8" font-size="26" textLength="146" lengthAdjust="spacingAndGlyphs" fill="#737478">without R.E.</text>
<circle cx="1573.3" cy="1365.6" r="3.1" fill="none" stroke="#141414" stroke-width="1.7"/>
<text x="1599" y="1375.6" font-size="26" textLength="313.5" lengthAdjust="spacingAndGlyphs" fill="#737478">with R.E., IR-compensated</text>
</svg>
</body></html>
